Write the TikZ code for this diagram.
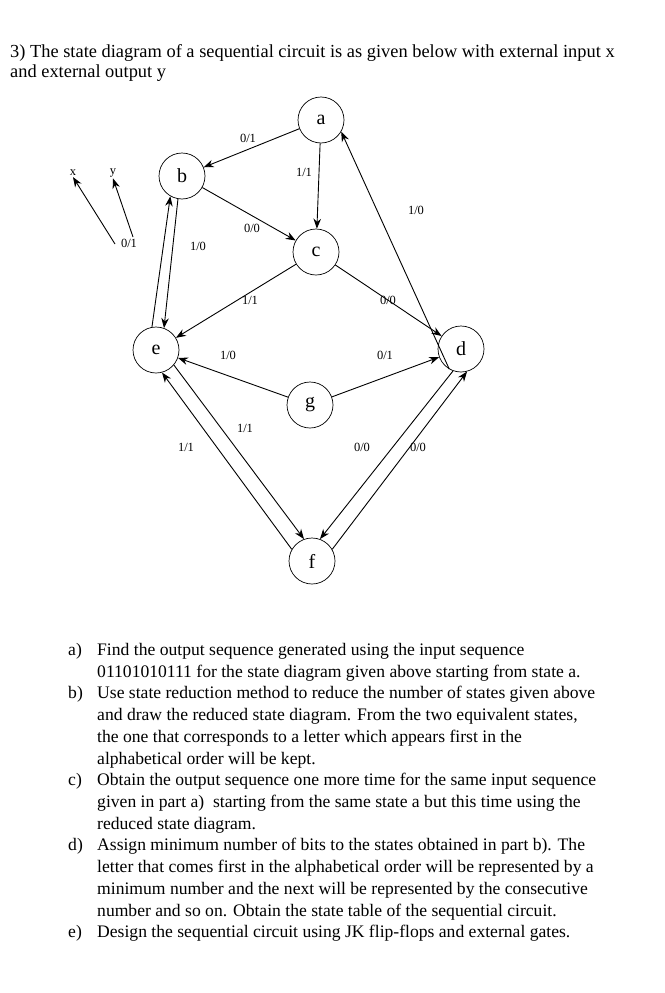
\documentclass[tikz,border=0pt]{standalone}
\usepackage{fontspec}
\setmainfont{Liberation Serif}
\usetikzlibrary{arrows.meta}
\begin{document}
\begin{tikzpicture}[x=1pt,y=-1pt,
  st/.style={circle,draw,line width=0.7pt,minimum size=46pt,inner sep=0pt,font=\fontsize{20}{20}\selectfont},
  tr/.style={-{Stealth[length=10pt,width=7.5pt]},line width=0.9pt},
  lb/.style={font=\fontsize{12.5}{12.5}\selectfont,inner sep=1pt},
  txt/.style={anchor=north west,align=left,inner sep=0pt,font=\fontsize{17.6}{21.8}\selectfont}]
\useasboundingbox[fill=white] (0,0) rectangle (664,993);
\node[st] (a) at (321,120) {a};
\node[st] (b) at (182,176) {b};
\node[st] (c) at (316,252) {c};
\node[st] (e) at (156,350) {e};
\node[st] (d) at (461,349) {d};
\node[st] (g) at (310,405) {g};
\node[st] (f) at (312,561) {f};
\draw[tr] (a) -- (b);
\draw[tr] (a) -- (c);
\draw[tr] (b) -- (c);
\draw[tr] (b.-100) -- (e.70);
\draw[tr] (e.100) -- (b.-120);
\draw[tr] (c) -- (e);
\draw[tr] (c) -- (d);
\draw[tr] (d.-120) -- (a.-30);
\draw[tr] (g) -- (e);
\draw[tr] (g) -- (d);
\draw[tr] (e.-40) -- (f.110);
\draw[tr] (f.150) -- (e.-75);
\draw[tr] (d.-110) -- (f.70);
\draw[tr] (f.30) -- (d.-75);
\node[lb] (l1) at (248,138) {0/1};
\node[lb] (l2) at (304,172) {1/1};
\node[lb] (l3) at (252,228) {0/0};
\node[lb] (l4) at (198,246) {1/0};
\node[lb] (l5) at (250,300) {1/1};
\node[lb] (l6) at (388,300) {0/0};
\node[lb] (l7) at (416,210) {1/0};
\node[lb] (l8) at (228,355) {1/0};
\node[lb] (l9) at (385,355) {0/1};
\node[lb] (l10) at (245,428) {1/1};
\node[lb] (l11) at (186,447) {1/1};
\node[lb] (l12) at (362,447) {0/0};
\node[lb] (l13) at (418,447) {0/0};
\node[lb] (x) at (73,173) {x};
\node[lb] (y) at (113,173) {y};
\coordinate (x0) at (115,244);
\coordinate (y0) at (133,237);
\node[lb] (l14) at (129,243) {0/1};
\draw[tr] (x0) -- (x.south);
\draw[tr] (y0) -- (y.south);
\node[txt,font=\fontsize{18.4}{20.5}\selectfont] (h) at (10,44) {3) The state diagram of a sequential circuit is as given below with external input x\\and external output y};
\node[txt] (qa) at (68,643) {a)};
\node[txt] (ta) at (97,643) {Find the output sequence generated using the input sequence\\01101010111 for the state diagram given above starting from state a.};
\node[txt] (qb) at (68,686) {b)};
\node[txt] (tb) at (97,686) {Use state reduction method to reduce the number of states given above\\and draw the reduced state diagram. From the two equivalent states,\\the one that corresponds to a letter which appears first in the\\alphabetical order will be kept.};
\node[txt] (qc) at (68,773) {c)};
\node[txt] (tc) at (97,773) {Obtain the output sequence one more time for the same input sequence\\given in part a) \ starting from the same state a but this time using the\\reduced state diagram.};
\node[txt] (qd) at (68,838) {d)};
\node[txt] (td) at (97,838) {Assign minimum number of bits to the states obtained in part b). The\\letter that comes first in the alphabetical order will be represented by a\\minimum number and the next will be represented by the consecutive\\number and so on. Obtain the state table of the sequential circuit.};
\node[txt] (qe) at (68,925) {e)};
\node[txt] (te) at (97,925) {Design the sequential circuit using JK flip-flops and external gates.};
\end{tikzpicture}
\end{document}
